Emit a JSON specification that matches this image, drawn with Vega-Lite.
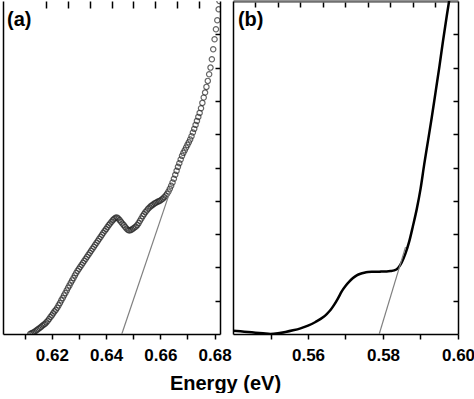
{
  "$schema": "https://vega.github.io/schema/vega-lite/v6.json",
  "background": "white",
  "padding": {"left": 3, "top": 0, "right": 0, "bottom": 0},
  "spacing": 13,
  "bounds": "flush",
  "config": {"view": {"stroke": null}, "axis": {"grid": false}},
  "datasets": {
    "curveA": [
      {"e": 0.6120, "a": 0.00}, {"e": 0.6125, "a": 0.02}, {"e": 0.6130, "a": 0.04}, {"e": 0.6135, "a": 0.06},
      {"e": 0.6140, "a": 0.09}, {"e": 0.6145, "a": 0.12}, {"e": 0.6150, "a": 0.15}, {"e": 0.6155, "a": 0.18},
      {"e": 0.6160, "a": 0.21}, {"e": 0.6165, "a": 0.25}, {"e": 0.6170, "a": 0.28}, {"e": 0.6175, "a": 0.31},
      {"e": 0.6180, "a": 0.35}, {"e": 0.6185, "a": 0.40}, {"e": 0.6190, "a": 0.45}, {"e": 0.6195, "a": 0.51},
      {"e": 0.6200, "a": 0.56}, {"e": 0.6205, "a": 0.62}, {"e": 0.6210, "a": 0.68}, {"e": 0.6215, "a": 0.73},
      {"e": 0.6220, "a": 0.79}, {"e": 0.6225, "a": 0.86}, {"e": 0.6230, "a": 0.93}, {"e": 0.6235, "a": 1.01},
      {"e": 0.6240, "a": 1.08}, {"e": 0.6245, "a": 1.16}, {"e": 0.6250, "a": 1.23}, {"e": 0.6255, "a": 1.31},
      {"e": 0.6260, "a": 1.39}, {"e": 0.6265, "a": 1.46}, {"e": 0.6270, "a": 1.54}, {"e": 0.6275, "a": 1.61},
      {"e": 0.6280, "a": 1.68}, {"e": 0.6285, "a": 1.76}, {"e": 0.6290, "a": 1.83}, {"e": 0.6295, "a": 1.90},
      {"e": 0.6300, "a": 1.96}, {"e": 0.6305, "a": 2.02}, {"e": 0.6310, "a": 2.08}, {"e": 0.6315, "a": 2.14},
      {"e": 0.6320, "a": 2.20}, {"e": 0.6325, "a": 2.26}, {"e": 0.6330, "a": 2.32}, {"e": 0.6335, "a": 2.38},
      {"e": 0.6340, "a": 2.44}, {"e": 0.6345, "a": 2.50}, {"e": 0.6350, "a": 2.56}, {"e": 0.6355, "a": 2.62},
      {"e": 0.6360, "a": 2.68}, {"e": 0.6365, "a": 2.74}, {"e": 0.6370, "a": 2.80}, {"e": 0.6375, "a": 2.86},
      {"e": 0.6380, "a": 2.92}, {"e": 0.6385, "a": 2.98}, {"e": 0.6390, "a": 3.04}, {"e": 0.6395, "a": 3.10},
      {"e": 0.6400, "a": 3.15}, {"e": 0.6405, "a": 3.21}, {"e": 0.6410, "a": 3.27}, {"e": 0.6415, "a": 3.32},
      {"e": 0.6420, "a": 3.37}, {"e": 0.6425, "a": 3.42}, {"e": 0.6430, "a": 3.46}, {"e": 0.6435, "a": 3.49},
      {"e": 0.6440, "a": 3.50}, {"e": 0.6445, "a": 3.47}, {"e": 0.6450, "a": 3.42}, {"e": 0.6455, "a": 3.37},
      {"e": 0.6460, "a": 3.32}, {"e": 0.6465, "a": 3.27}, {"e": 0.6470, "a": 3.22}, {"e": 0.6475, "a": 3.17},
      {"e": 0.6480, "a": 3.13}, {"e": 0.6485, "a": 3.11}, {"e": 0.6490, "a": 3.12}, {"e": 0.6495, "a": 3.14},
      {"e": 0.6500, "a": 3.17}, {"e": 0.6505, "a": 3.20}, {"e": 0.6510, "a": 3.23}, {"e": 0.6515, "a": 3.27},
      {"e": 0.6520, "a": 3.33}, {"e": 0.6525, "a": 3.40}, {"e": 0.6530, "a": 3.47}, {"e": 0.6535, "a": 3.54},
      {"e": 0.6540, "a": 3.60}, {"e": 0.6545, "a": 3.66}, {"e": 0.6550, "a": 3.71}, {"e": 0.6555, "a": 3.76},
      {"e": 0.6560, "a": 3.80}, {"e": 0.6565, "a": 3.84}, {"e": 0.6570, "a": 3.87}, {"e": 0.6575, "a": 3.90},
      {"e": 0.6580, "a": 3.93}, {"e": 0.6585, "a": 3.95}, {"e": 0.6590, "a": 3.97}, {"e": 0.6595, "a": 3.99},
      {"e": 0.6600, "a": 4.01}, {"e": 0.6605, "a": 4.04}, {"e": 0.6610, "a": 4.07}, {"e": 0.6615, "a": 4.11},
      {"e": 0.6620, "a": 4.16}, {"e": 0.6625, "a": 4.21}, {"e": 0.6630, "a": 4.28}, {"e": 0.6635, "a": 4.36},
      {"e": 0.6640, "a": 4.45}, {"e": 0.6645, "a": 4.55}, {"e": 0.6650, "a": 4.66}, {"e": 0.6655, "a": 4.78},
      {"e": 0.6660, "a": 4.90}, {"e": 0.6665, "a": 5.02}, {"e": 0.6670, "a": 5.13}, {"e": 0.6675, "a": 5.24},
      {"e": 0.6680, "a": 5.35}, {"e": 0.6685, "a": 5.44}, {"e": 0.6690, "a": 5.52}, {"e": 0.6695, "a": 5.60},
      {"e": 0.6700, "a": 5.68}, {"e": 0.6705, "a": 5.76}, {"e": 0.6710, "a": 5.84}, {"e": 0.6715, "a": 5.94},
      {"e": 0.6720, "a": 6.05}, {"e": 0.6725, "a": 6.16}, {"e": 0.6730, "a": 6.28}, {"e": 0.6735, "a": 6.40},
      {"e": 0.6740, "a": 6.52}, {"e": 0.6745, "a": 6.64}, {"e": 0.6750, "a": 6.78}, {"e": 0.6755, "a": 6.94},
      {"e": 0.6760, "a": 7.10}, {"e": 0.6765, "a": 7.25}, {"e": 0.6770, "a": 7.42}, {"e": 0.6775, "a": 7.60},
      {"e": 0.6780, "a": 7.80}, {"e": 0.6785, "a": 8.00}, {"e": 0.6790, "a": 8.25}, {"e": 0.6795, "a": 8.55},
      {"e": 0.6800, "a": 8.85}, {"e": 0.6805, "a": 9.15}, {"e": 0.6810, "a": 9.42}, {"e": 0.6815, "a": 9.75},
      {"e": 0.6818, "a": 10.0}
    ],
    "tangentA": [{"e": 0.6458, "a": 0}, {"e": 0.6645, "a": 4.5}],
    "curveB": [
      {"e": 0.5400, "a": 0.10}, {"e": 0.5420, "a": 0.08}, {"e": 0.5440, "a": 0.06}, {"e": 0.5460, "a": 0.04},
      {"e": 0.5480, "a": 0.02}, {"e": 0.5500, "a": 0.00}, {"e": 0.5520, "a": 0.02}, {"e": 0.5540, "a": 0.06},
      {"e": 0.5560, "a": 0.11}, {"e": 0.5580, "a": 0.17}, {"e": 0.5600, "a": 0.25}, {"e": 0.5620, "a": 0.36},
      {"e": 0.5640, "a": 0.50}, {"e": 0.5650, "a": 0.60}, {"e": 0.5660, "a": 0.72}, {"e": 0.5670, "a": 0.88},
      {"e": 0.5680, "a": 1.07}, {"e": 0.5690, "a": 1.28}, {"e": 0.5700, "a": 1.44}, {"e": 0.5710, "a": 1.57},
      {"e": 0.5720, "a": 1.68}, {"e": 0.5730, "a": 1.76}, {"e": 0.5740, "a": 1.81}, {"e": 0.5750, "a": 1.84},
      {"e": 0.5760, "a": 1.86}, {"e": 0.5770, "a": 1.87}, {"e": 0.5780, "a": 1.87}, {"e": 0.5790, "a": 1.87},
      {"e": 0.5800, "a": 1.88}, {"e": 0.5810, "a": 1.88}, {"e": 0.5820, "a": 1.89}, {"e": 0.5830, "a": 1.91},
      {"e": 0.5840, "a": 1.98}, {"e": 0.5850, "a": 2.15}, {"e": 0.5860, "a": 2.42}, {"e": 0.5870, "a": 2.78},
      {"e": 0.5880, "a": 3.25}, {"e": 0.5890, "a": 3.75}, {"e": 0.5900, "a": 4.35}, {"e": 0.5910, "a": 5.10},
      {"e": 0.5920, "a": 5.80}, {"e": 0.5930, "a": 6.50}, {"e": 0.5940, "a": 7.25}, {"e": 0.5950, "a": 8.00},
      {"e": 0.5960, "a": 8.80}, {"e": 0.5970, "a": 9.55}, {"e": 0.5977, "a": 10.05}
    ],
    "tangentB": [{"e": 0.5790, "a": 0}, {"e": 0.5860, "a": 2.61}],
    "labelA": [{"label": "(a)"}],
    "labelB": [{"label": "(b)"}]
  },
  "hconcat": [
    {
      "width": 217,
      "height": 333,
      "resolve": {"axis": {"x": "independent", "y": "independent"}},
      "layer": [
        {
          "data": {"name": "curveA"},
          "mark": {"type": "point", "shape": "circle", "filled": false, "size": 28, "stroke": "#262626", "strokeWidth": 1.2, "clip": true},
          "encoding": {
            "x": {"field": "e", "type": "quantitative", "scale": {"domain": [0.602, 0.682], "nice": false, "zero": false},
              "axis": {"orient": "bottom", "values": [0.61, 0.62, 0.63, 0.64, 0.65, 0.66, 0.67, 0.68],
                "labelExpr": "abs(datum.value*100 - round(datum.value*50)*2) < 0.01 ? format(datum.value, '.2f') : ''",
                "domainColor": "black", "domainWidth": 1.5, "tickColor": "black", "tickWidth": 1.5, "tickSize": 5,
                "labelFont": "Liberation Sans", "labelFontSize": 17, "labelFontWeight": "bold", "labelColor": "black", "labelPadding": 8,
                "labelOverlap": false, "labelFlush": false,
                "title": "Energy (eV)", "titleX": 222, "titleY": 55, "titleAlign": "center", "titleBaseline": "alphabetic",
                "titleFont": "Liberation Sans", "titleFontSize": 20, "titleFontWeight": "bold", "titleColor": "black"}},
            "y": {"field": "a", "type": "quantitative", "scale": {"domain": [0, 10], "nice": false},
              "axis": {"orient": "left", "labels": false, "ticks": false, "title": null, "domainColor": "black", "domainWidth": 1.5}}
          }
        },
        {
          "data": {"name": "tangentA"},
          "mark": {"type": "line", "color": "#808080", "strokeWidth": 1.2, "clip": true},
          "encoding": {
            "x": {"field": "e", "type": "quantitative", "scale": {"domain": [0.602, 0.682], "nice": false, "zero": false},
              "axis": {"orient": "top", "values": [0.6178, 0.6259, 0.6341, 0.6422, 0.6500, 0.6581, 0.6663, 0.6744],
                "labels": false, "domain": false, "tickSize": -7, "tickColor": "black", "tickWidth": 1.5, "title": null}},
            "y": {"field": "a", "type": "quantitative", "scale": {"domain": [0, 10], "nice": false},
              "axis": {"orient": "right", "values": [1, 2, 3, 4, 5, 6, 7, 8, 9], "labels": false, "title": null,
                "tickSize": -5, "tickColor": "black", "tickWidth": 1.5, "domainColor": "black", "domainWidth": 1.5}}
          }
        },
        {
          "data": {"name": "labelA"},
          "mark": {"type": "text", "align": "left", "baseline": "alphabetic", "font": "Liberation Sans", "fontSize": 20, "fontWeight": "bold", "color": "black"},
          "encoding": {
            "text": {"field": "label", "type": "nominal"},
            "x": {"datum": 0.6035, "type": "quantitative", "axis": null},
            "y": {"datum": 9.25, "type": "quantitative", "axis": null}
          }
        }
      ]
    },
    {
      "width": 225,
      "height": 333,
      "resolve": {"axis": {"x": "independent", "y": "independent"}},
      "layer": [
        {
          "data": {"name": "curveB"},
          "mark": {"type": "line", "color": "black", "strokeWidth": 2.5, "interpolate": "monotone", "clip": true},
          "encoding": {
            "x": {"field": "e", "type": "quantitative", "scale": {"domain": [0.54, 0.60], "nice": false, "zero": false},
              "axis": {"orient": "bottom", "values": [0.55, 0.56, 0.57, 0.58, 0.59, 0.60],
                "labelExpr": "abs(datum.value*100 - round(datum.value*50)*2) < 0.01 ? format(datum.value, '.2f') : ''",
                "domainColor": "black", "domainWidth": 1.5, "tickColor": "black", "tickWidth": 1.5, "tickSize": 5,
                "labelFont": "Liberation Sans", "labelFontSize": 17, "labelFontWeight": "bold", "labelColor": "black", "labelPadding": 8,
                "labelOverlap": false, "labelFlush": false, "title": null}},
            "y": {"field": "a", "type": "quantitative", "scale": {"domain": [0, 10], "nice": false},
              "axis": {"orient": "left", "labels": false, "ticks": false, "title": null, "domainColor": "black", "domainWidth": 1.5}}
          }
        },
        {
          "data": {"name": "tangentB"},
          "mark": {"type": "line", "color": "#808080", "strokeWidth": 1.2, "clip": true},
          "encoding": {
            "x": {"field": "e", "type": "quantitative", "scale": {"domain": [0.54, 0.60], "nice": false, "zero": false},
              "axis": {"orient": "top", "values": [0.5459, 0.5519, 0.5579, 0.5639, 0.5699, 0.5759, 0.5819, 0.5879, 0.5939],
                "labels": false, "domain": true, "domainColor": "#707070", "domainWidth": 2.5, "tickSize": -6, "tickColor": "black", "tickWidth": 1.5, "title": null}},
            "y": {"field": "a", "type": "quantitative", "scale": {"domain": [0, 10], "nice": false},
              "axis": {"orient": "right", "values": [1, 2, 3, 4, 5, 6, 7, 8, 9], "labels": false, "title": null,
                "tickSize": -5, "tickColor": "black", "tickWidth": 1.5, "domainColor": "black", "domainWidth": 1.5}}
          }
        },
        {
          "data": {"name": "labelB"},
          "mark": {"type": "text", "align": "left", "baseline": "alphabetic", "font": "Liberation Sans", "fontSize": 20, "fontWeight": "bold", "color": "black"},
          "encoding": {
            "text": {"field": "label", "type": "nominal"},
            "x": {"datum": 0.5413, "type": "quantitative", "axis": null},
            "y": {"datum": 9.25, "type": "quantitative", "axis": null}
          }
        }
      ]
    }
  ]
}
